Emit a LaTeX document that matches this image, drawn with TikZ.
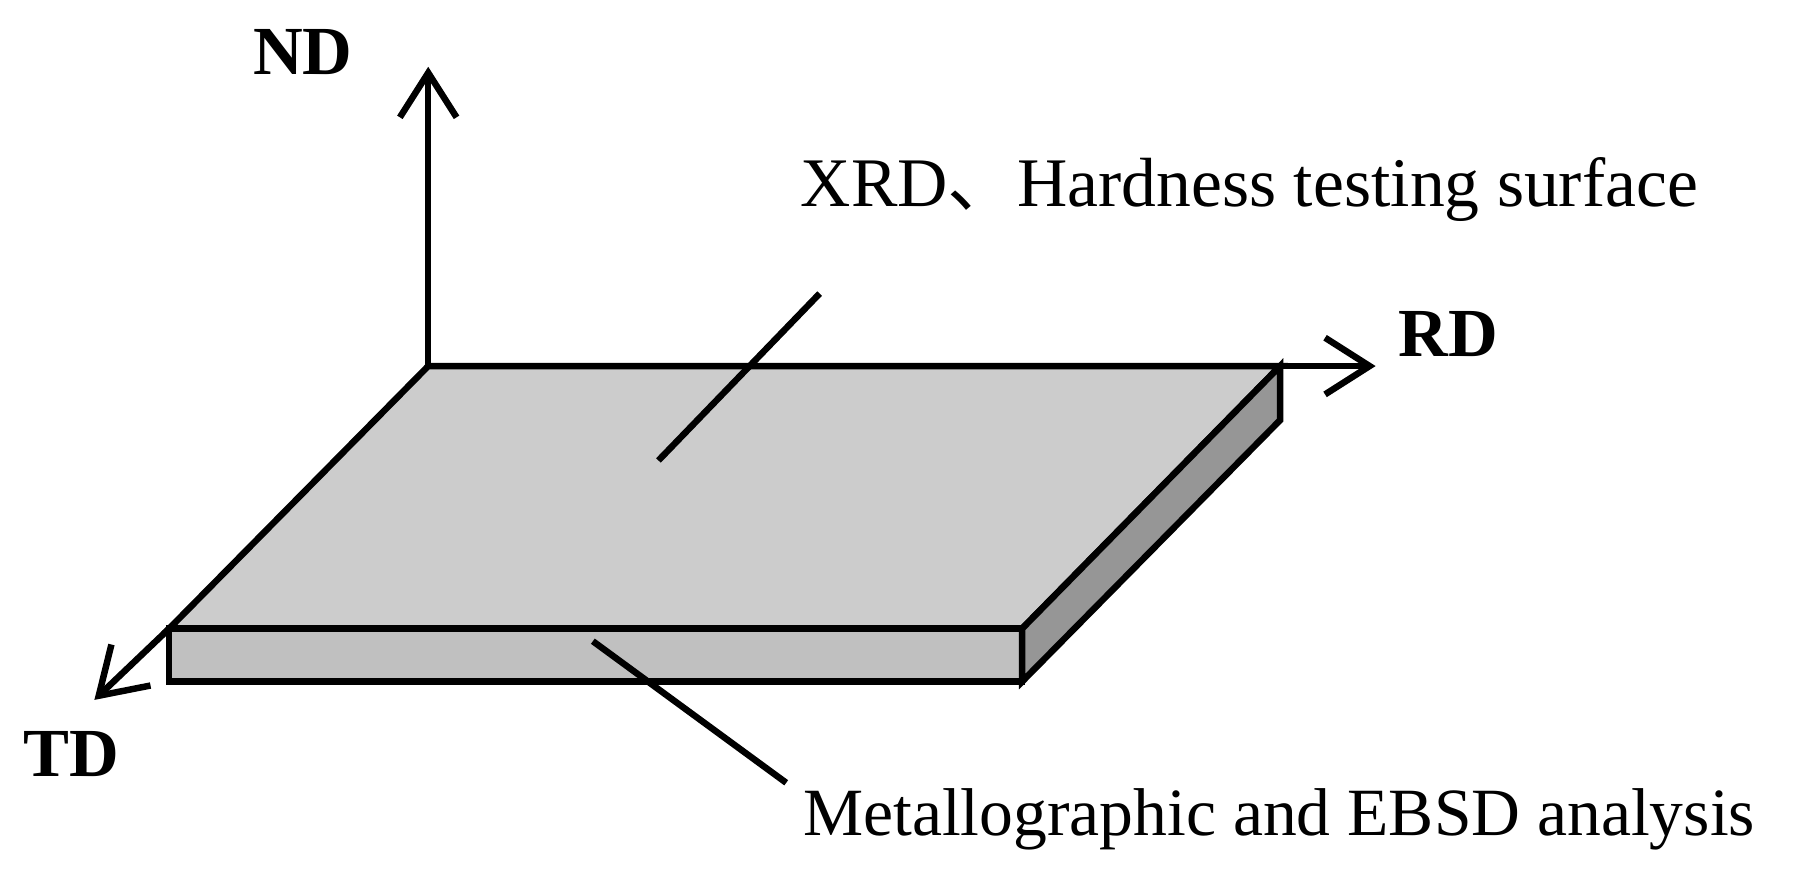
\documentclass[tikz,border=0pt]{standalone}
\usepackage{fontspec}
\setmainfont{Liberation Serif}
\newfontfamily\cjk{Noto Sans CJK SC}
\usetikzlibrary{arrows.meta}
\begin{document}
\begin{tikzpicture}[x=0.01cm,y=-0.01cm,
  edge/.style={line width=1.6pt,line join=miter},
  axis/.style={line width=1.6pt,-{Straight Barb[length=11pt,width=14pt,line width=1.6pt]}},
  lbl/.style={font=\bfseries\fontsize{17}{20}\selectfont,inner sep=0pt},
  txt/.style={font=\fontsize{17}{20}\selectfont,inner sep=0pt}]
\useasboundingbox (0,0) rectangle (1568,757);
\coordinate (o) at (372,318);
\coordinate (br) at (1112,318);
\coordinate (fr) at (888,546);
\coordinate (fl) at (147,546);
\coordinate (frb) at (888,592);
\coordinate (flb) at (147,592);
\coordinate (brb) at (1112,365);
\node[lbl] (nd) at (263,45) {ND};
\node[lbl] (rd) at (1258,290) {RD};
\node[lbl] (td) at (62,655) {TD};
\coordinate (ndt) at (372,58);
\coordinate (rdt) at (1195,318);
\coordinate (tdt) at (82,608);
\draw[axis] (o) -- (ndt);
\draw[axis] (o) -- (rdt);
\draw[axis] (fl) -- (tdt);
\draw[edge,fill={rgb,255:red,204;green,204;blue,204}] (o) -- (br) -- (fr) -- (fl) -- cycle;
\draw[edge,fill={rgb,255:red,192;green,192;blue,192}] (fl) -- (fr) -- (frb) -- (flb) -- cycle;
\draw[edge,fill={rgb,255:red,150;green,150;blue,150}] (fr) -- (br) -- (brb) -- (frb) -- cycle;
\node[txt,anchor=west,font=\fontsize{17.2}{20}\selectfont] (xrd) at (695,165) {XRD{\cjk 、}Hardness testing surface};
\node[txt,anchor=west,font=\fontsize{16.7}{20}\selectfont] (met) at (697,712) {Metallographic and EBSD analysis};
\coordinate (a1) at (572,400); \coordinate (a2) at (712,255);
\coordinate (b1) at (515,557); \coordinate (b2) at (683,680);
\draw[line width=1.6pt] (a1) -- (a2);
\draw[line width=1.6pt] (b1) -- (b2);
\end{tikzpicture}
\end{document}
